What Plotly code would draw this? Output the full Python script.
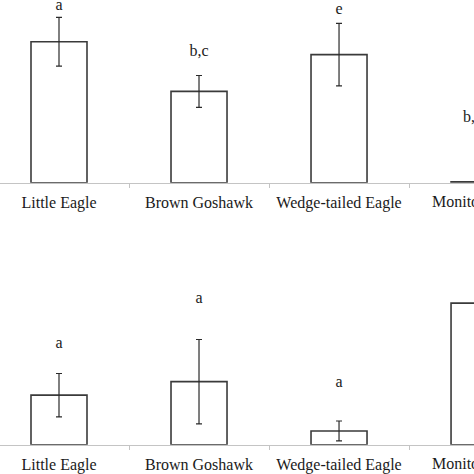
import plotly.graph_objects as go

species = ["Little Eagle", "Brown Goshawk", "Wedge-tailed Eagle", "Monitor Lizard"]

# upper panel
top_vals = [28.4, 18.4, 25.8, 0.2]
top_err = [4.9, 3.2, 6.3, 0.0]
top_letters = ["a", "b,c", "e", "b,c"]
top_letter_y = [35.5, 26.3, 34.8, 13.4]

# lower panel
bot_vals = [25.0, 31.8, 7.0, 71.3]
bot_err = [10.9, 21.2, 5.0, 34.5]
bot_letters = ["a", "a", "a"]
bot_letter_y = [50.8, 73.3, 31.3]

serif = "Liberation Serif, Times New Roman, serif"
bar_line = "#3a3a3a"
letter_font = dict(family=serif, size=16, color="#1a1a1a")

fig = go.Figure()

fig.add_trace(go.Bar(x=species, y=top_vals, xaxis="x", yaxis="y", width=0.4,
                     marker=dict(color="white", line=dict(color=bar_line, width=1.6)),
                     error_y=dict(type="data", array=top_err, color="#2a2a2a", thickness=1.2, width=3),
                     showlegend=False))
fig.add_trace(go.Bar(x=species, y=bot_vals, xaxis="x2", yaxis="y2", width=0.4,
                     marker=dict(color="white", line=dict(color=bar_line, width=1.6)),
                     error_y=dict(type="data", array=bot_err, color="#2a2a2a", thickness=1.2, width=3),
                     cliponaxis=False, showlegend=False))

# significance letters
fig.add_trace(go.Scatter(x=species[:3], y=top_letter_y[:3], text=top_letters[:3], mode="text",
                         textfont=letter_font, xaxis="x", yaxis="y",
                         cliponaxis=False, showlegend=False, hoverinfo="skip"))
fig.add_trace(go.Scatter(x=species[:3], y=bot_letter_y, text=bot_letters, mode="text",
                         textfont=letter_font, xaxis="x2", yaxis="y2",
                         cliponaxis=False, showlegend=False, hoverinfo="skip"))
# the Monitor column is centred past the right edge, plotly hides its label there,
# so pin those texts to the paper edge instead
fig.add_annotation(x=1, xref="paper", xanchor="left", xshift=-13,
                   y=top_letter_y[3], yref="y", text=top_letters[3],
                   showarrow=False, font=letter_font)
for ypos in [0.5717, 0.0169]:
    fig.add_annotation(x=1, xref="paper", xanchor="left", xshift=-44,
                       y=ypos, yref="paper", yanchor="middle", text=species[3],
                       showarrow=False, font=letter_font)

xstyle = dict(type="category", range=[-0.4214, 2.964], tickson="boundaries",
              showline=True, linecolor="#c4c4c4", linewidth=1.2,
              ticks="outside", ticklen=4, tickcolor="#c4c4c4",
              showgrid=False, zeroline=False, ticklabelstandoff=5,
              tickfont=dict(family=serif, size=16, color="#1a1a1a"))
ystyle = dict(visible=False, showgrid=False, zeroline=False)

fig.update_layout(
    width=474, height=474,
    margin=dict(l=0, r=0, t=0, b=0),
    paper_bgcolor="white", plot_bgcolor="white",
    bargap=0.6,
    xaxis=dict(xstyle, anchor="y", domain=[0, 1]),
    yaxis=dict(ystyle, domain=[0.6118, 1], range=[0, 36.8]),
    xaxis2=dict(xstyle, anchor="y2", domain=[0, 1]),
    yaxis2=dict(ystyle, domain=[0.0555, 0.5359], range=[0, 113.85]),
)

# drop the default page margin so the figure starts at the window corner
fig.write_html("out.html", config={"displayModeBar": False},
               post_script="document.body.style.margin='0';")
